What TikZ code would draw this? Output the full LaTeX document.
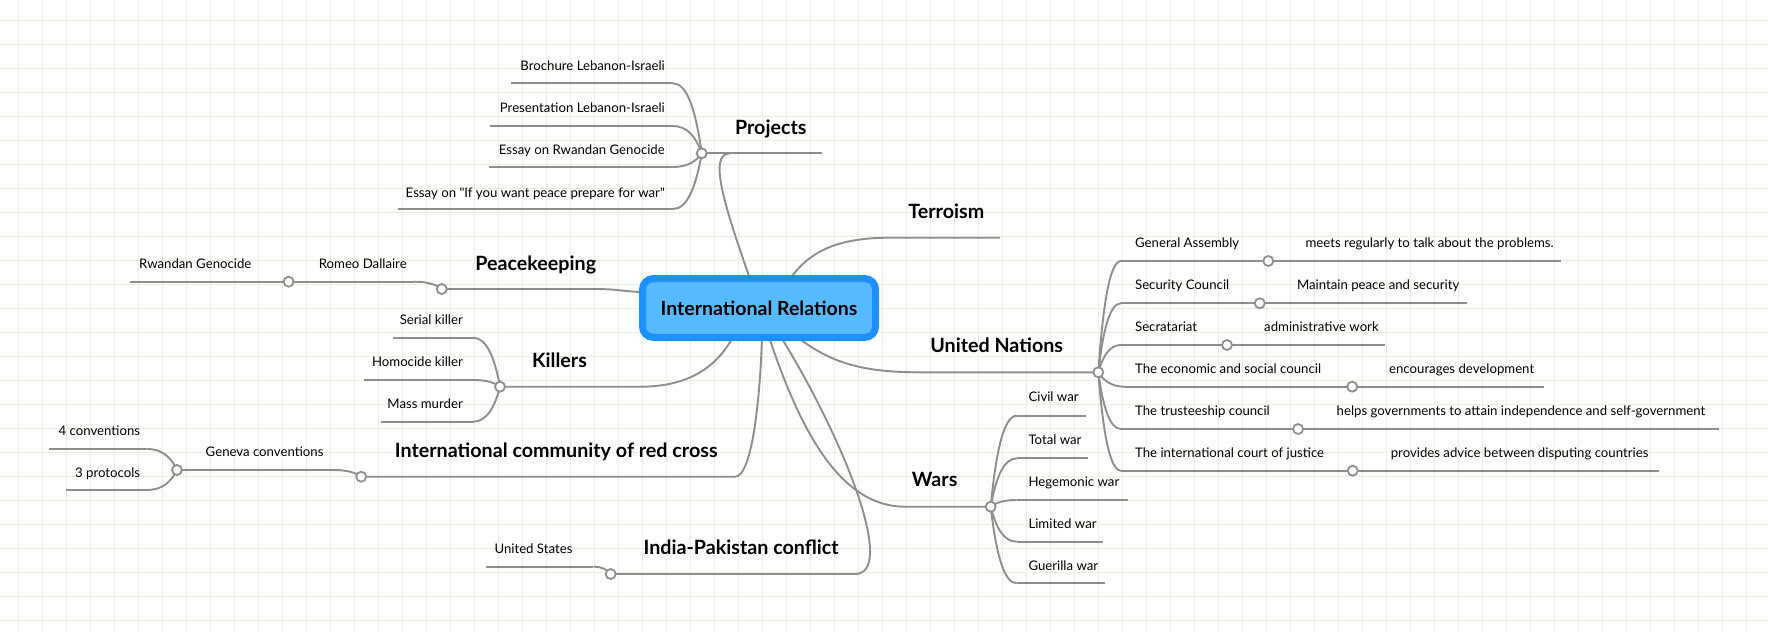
\documentclass[tikz,border=0pt]{standalone}
\usepackage{fontspec}
\newfontfamily\mmfont{Lato}
\usetikzlibrary{calc}
\definecolor{gridc}{RGB}{232,241,222}
\definecolor{linec}{RGB}{142,142,142}
\definecolor{irborder}{RGB}{30,144,255}
\definecolor{irfill}{RGB}{86,186,255}
\pgfdeclarelayer{bg}
\pgfdeclarelayer{lines}
\pgfsetlayers{bg,lines,main}
\newcommand\subcurve[2]{\draw[conn] let \p1=(#1.center), \p2=(#2) in (\p1) .. controls ({\x1+0.2*(\x2-\x1)},{\y1+0.6*(\y2-\y1)}) and ({\x1+0.5*(\x2-\x1)},{\y2}) .. (\p2);}
\begin{document}
\begin{tikzpicture}[x=1pt,y=-1pt,
  conn/.style={draw=linec,line width=1.9pt},
  knob/.style={circle,draw=linec,fill=white,line width=1.8pt,minimum size=10pt,inner sep=0pt},
  small/.style={font=\mmfont\fontsize{13.2}{16}\selectfont,inner sep=0pt},
  topic/.style={font=\mmfont\fontsize{19.7}{22}\selectfont\bfseries,inner sep=0pt,anchor=base}]
\useasboundingbox (0,0) rectangle (1768,632);
\begin{pgfonlayer}{bg}
\fill[white] (0,0) rectangle (1768,632);
\foreach \gx in {18,42,...,1766} \draw[gridc,line width=1pt] (\gx,0) -- (\gx,632);
\foreach \gy in {20,44,...,620} \draw[gridc,line width=1pt] (0,\gy) -- (1768,\gy);
\end{pgfonlayer}

% central topic
\node[draw=irborder,fill=irfill,line width=7pt,rounded corners=11pt,minimum width=233pt,minimum height=59pt,inner sep=0pt,font=\mmfont\fontsize{19.5}{22}\selectfont\bfseries] (ir) at (759,308) {International Relations};

% knobs
\node[knob] (pc) at (701.7,153.3) {};
\node[knob] (pk) at (441.8,289) {};
\node[knob] (rc) at (288.6,281.7) {};
\node[knob] (kc) at (500,386.7) {};
\node[knob] (ic) at (361.2,476.7) {};
\node[knob] (gc) at (177,470) {};
\node[knob] (ipc) at (610.7,574) {};
\node[knob] (wc) at (990.7,506.7) {};
\node[knob] (uc) at (1098.3,372.3) {};
\node[knob] (gac) at (1268.3,261) {};
\node[knob] (scc) at (1259.8,303.3) {};
\node[knob] (sec) at (1227,345) {};
\node[knob] (ecc) at (1352.2,386.7) {};
\node[knob] (tcc) at (1298.1,429) {};
\node[knob] (jcc) at (1352.7,470.7) {};

% main topics
\node[topic] (tpr) at (770.8,134) {Projects};
\node[topic] (tpk) at (535.7,270) {Peacekeeping};
\node[topic] (tki) at (559.5,367.4) {Killers};
\node[topic] (tic) at (556.2,457.4) {International community of red cross};
\node[topic] (tip) at (741.1,554) {India-Pakistan conflict};
\node[topic] (twa) at (934.7,486.7) {Wars};
\node[topic] (tun) at (996.7,352.7) {United Nations};
\node[topic] (tte) at (946.3,218.4) {Terroism};

% subtopics
\node[small,anchor=base east] (a1) at (665,70) {Brochure Lebanon-Israeli};
\node[small,anchor=base east] (a2) at (665,112) {Presentation Lebanon-Israeli};
\node[small,anchor=base east] (a3) at (665,154) {Essay on Rwandan Genocide};
\node[small,anchor=base east] (a4) at (665,197) {Essay on "If you want peace prepare for war"};
\node[small,anchor=base west] (b1) at (139,268) {Rwandan Genocide};
\node[small,anchor=base west] (b2) at (318.6,268) {Romeo Dallaire};
\node[small,anchor=base east] (c1) at (463,324.3) {Serial killer};
\node[small,anchor=base east] (c2) at (463,366.7) {Homocide killer};
\node[small,anchor=base east] (c3) at (463,408.3) {Mass murder};
\node[small,anchor=base west] (d1) at (205.5,456.7) {Geneva conventions};
\node[small,anchor=base east] (d2) at (140.3,435.7) {4 conventions};
\node[small,anchor=base east] (d3) at (140.3,477.7) {3 protocols};
\node[small,anchor=base west] (e1) at (494.3,553.3) {United States};
\node[small,anchor=base west] (f1) at (1028.3,401.7) {Civil war};
\node[small,anchor=base west] (f2) at (1028.3,444.3) {Total war};
\node[small,anchor=base west] (f3) at (1028.3,486) {Hegemonic war};
\node[small,anchor=base west] (f4) at (1028.3,528.3) {Limited war};
\node[small,anchor=base west] (f5) at (1028.3,570) {Guerilla war};
\node[small,anchor=base west] (g1) at (1134.9,247.7) {General Assembly};
\node[small,anchor=base west] (g2) at (1134.9,289) {Security Council};
\node[small,anchor=base west] (g3) at (1134.9,331) {Secratariat};
\node[small,anchor=base west] (g4) at (1134.9,373.3) {The economic and social council};
\node[small,anchor=base west] (g5) at (1134.9,415.7) {The trusteeship council};
\node[small,anchor=base west] (g6) at (1134.9,457.7) {The international court of justice};
\node[small,anchor=base west] (h1) at (1305.4,247.7) {meets regularly to talk about the problems.};
\node[small,anchor=base west] (h2) at (1296.8,289) {Maintain peace and security};
\node[small,anchor=base west] (h3) at (1264,331) {administrative work};
\node[small,anchor=base west] (h4) at (1388.9,373.3) {encourages development};
\node[small,anchor=base west] (h5) at (1336.5,415.7) {helps governments to attain independence and self-government};
\node[small,anchor=base west] (h6) at (1390.6,457.7) {provides advice between disputing countries};

% line end coordinates
\coordinate (pre) at (822,153.3);
\coordinate (tee) at (1000,237.7);
\coordinate (a1s) at (673,83.3);  \coordinate (a1e) at (511,83.3);
\coordinate (a2s) at (673,126);   \coordinate (a2e) at (490,126);
\coordinate (a3s) at (673,167);   \coordinate (a3e) at (489,167);
\coordinate (a4s) at (673,209);   \coordinate (a4e) at (398,209);
\coordinate (b2s) at (414,281.7); \coordinate (b1e) at (130,281.7);
\coordinate (c1s) at (473,337.7); \coordinate (c1e) at (392.9,337.7);
\coordinate (c2s) at (473,380);   \coordinate (c2e) at (364,380);
\coordinate (c3s) at (473,421.7); \coordinate (c3e) at (381,421.7);
\coordinate (d1s) at (333.8,470);
\coordinate (d2s) at (147.4,449); \coordinate (d2e) at (49.3,449);
\coordinate (d3s) at (147,490);   \coordinate (d3e) at (66.2,490);
\coordinate (e1s) at (593.4,566.7); \coordinate (e1e) at (486,566.7);
\coordinate (f1s) at (1016.7,415.7); \coordinate (f1e) at (1085.7,415.7);
\coordinate (f2s) at (1016.7,458.3); \coordinate (f2e) at (1088.3,458.3);
\coordinate (f3s) at (1016.7,500);   \coordinate (f3e) at (1127.7,500);
\coordinate (f4s) at (1016.7,541.7); \coordinate (f4e) at (1103.3,541.7);
\coordinate (f5s) at (1016.7,583.3); \coordinate (f5e) at (1105,583.3);
\coordinate (g1s) at (1121,261);   \coordinate (g1e) at (1561.4,261);
\coordinate (g2s) at (1121,303.3); \coordinate (g2e) at (1467.3,303.3);
\coordinate (g3s) at (1121,345);   \coordinate (g3e) at (1384.6,345);
\coordinate (g4s) at (1125,386.7); \coordinate (g4e) at (1544.4,386.7);
\coordinate (g5s) at (1121,429);   \coordinate (g5e) at (1718.7,429);
\coordinate (g6s) at (1121,470.7); \coordinate (g6e) at (1659.4,470.7);

\begin{pgfonlayer}{lines}
% central connectors
\draw[conn] ($(ir.north)+(-9,4)$) .. controls (728,215) and (706,153.3) .. (730,153.3);
\draw[conn] (pc.center) -- (pre);
\draw[conn] ($(ir.north)+(31,4)$) .. controls (810,250) and (840,237.7) .. (890,237.7) -- (tee);
\draw[conn] (pk.center) -- (595,289) .. controls (620,289) and (625,292) .. ($(ir.west)+(6,-16)$);
\draw[conn] (kc.center) -- (640,386.7) .. controls (685,386.7) and (715,370) .. ($(ir.south)+(-26,-4)$);
\draw[conn] (ic.center) -- (735,476.7) .. controls (752,476.7) and (760,400) .. ($(ir.south)+(3,-4)$);
\draw[conn] (ipc.center) -- (855,574) .. controls (895,574) and (850,450) .. ($(ir.south)+(22,-4)$);
\draw[conn] (wc.center) -- (905,506.7) .. controls (840,506.7) and (800,430) .. ($(ir.south)+(10,-4)$);
\draw[conn] (uc.center) -- (920,372.3) .. controls (860,372.3) and (830,362) .. ($(ir.south)+(38,-4)$);
% subtopic connectors
\foreach \s/\e in {a1s/a1e,a2s/a2e,a3s/a3e,a4s/a4e} {\subcurve{pc}{\s} \draw[conn] (\s) -- (\e);}
\subcurve{pk}{b2s} \draw[conn] (b2s) -- (b1e);
\foreach \s/\e in {c1s/c1e,c2s/c2e,c3s/c3e} {\subcurve{kc}{\s} \draw[conn] (\s) -- (\e);}
\subcurve{ic}{d1s} \draw[conn] (d1s) -- (gc.center);
\foreach \s/\e in {d2s/d2e,d3s/d3e} {\subcurve{gc}{\s} \draw[conn] (\s) -- (\e);}
\subcurve{ipc}{e1s} \draw[conn] (e1s) -- (e1e);
\foreach \s/\e in {f1s/f1e,f2s/f2e,f3s/f3e,f4s/f4e,f5s/f5e} {\subcurve{wc}{\s} \draw[conn] (\s) -- (\e);}
\foreach \s/\e in {g1s/g1e,g2s/g2e,g3s/g3e,g4s/g4e,g5s/g5e,g6s/g6e} {\subcurve{uc}{\s} \draw[conn] (\s) -- (\e);}
\end{pgfonlayer}
\end{tikzpicture}
\end{document}
